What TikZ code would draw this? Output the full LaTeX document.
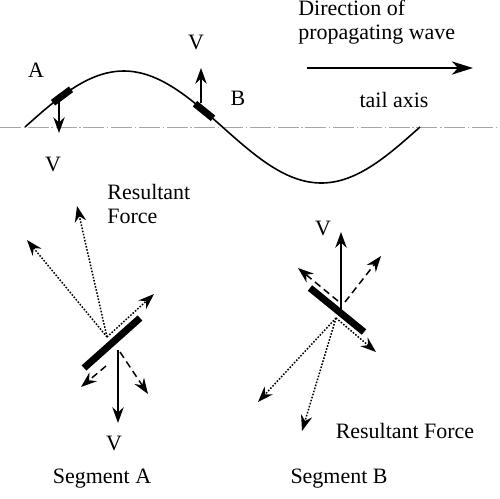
\documentclass[tikz,border=0pt]{standalone}
\usepackage{fontspec}
\setmainfont{Liberation Serif}
\usetikzlibrary{arrows.meta}

\begin{document}
\begin{tikzpicture}[x=0.02cm, y=-0.02cm,
        every node/.style={font=\fontsize{12.5}{13.6}\selectfont, inner sep=0pt},
        vec/.style={line width=0.85pt, -{Stealth[length=9pt, width=6.5pt, inset=3pt]}},
        comp/.style={vec, dash pattern=on 4pt off 2.5pt},
        resultant/.style={vec, dash pattern=on 0.9pt off 0.9pt},
        segbar/.style={line width=4pt}]
            \def \amp {56}
            \def \wavelen {395}

            \useasboundingbox (0,0) rectangle (500,498);

            % tail axis and wave
            \draw [gray!70, line width=0.5pt, dash pattern=on 12pt off 1.5pt on 0.8pt off 1.5pt] (0,127) -- (500,127);
            \draw [line width=0.9pt] plot [domain=25:420, samples=120] (\x, {127-\amp*sin((\x-25)/\wavelen*360)});

            \draw [segbar] (53,102.7) -- (71,89.3);
            \draw [segbar] (195,103.7) -- (213,118.3);
            \coordinate (vA0) at (59,102);
            \coordinate (vA1) at (59,133);
            \coordinate (vB0) at (201,103);
            \coordinate (vB1) at (201,68);
            \draw [vec] (vA0) -- (vA1);
            \draw [vec] (vB0) -- (vB1);

            \node (labA) at (36,70) {A};
            \node (labB) at (238,98) {B};
            \node (vA) at (53,164) {V};
            \node (vB) at (196,42) {V};

            \node [align=left, anchor=west] (direction) at (298,22.5) {Direction of\\propagating wave};
            \coordinate (dir0) at (307,68);
            \coordinate (dir1) at (473,68);
            \draw [line width=1.1pt, -{Stealth[length=12pt, width=7.5pt, inset=3.5pt]}] (dir0) -- (dir1);
            \node (tail) at (394,100) {tail axis};

            % segment A
            \node [align=left, anchor=west] (resA) at (107,204) {Resultant\\Force};
            \draw [segbar] (84,368) -- (140,318);
            \coordinate (fA) at (107,337);
            \coordinate (fA1) at (27,240);
            \coordinate (fA2) at (77,206);
            \coordinate (fA3) at (154,294);
            \draw [resultant] (fA) -- (fA1);
            \draw [resultant] (fA) -- (fA2);
            \draw [resultant] (fA) -- (fA3);
            \coordinate (vA2) at (118,350);
            \coordinate (vA3) at (118,423);
            \draw [vec] (vA2) -- (vA3);
            \coordinate (cA0) at (120,352);
            \coordinate (cA1) at (148,394);
            \draw [comp] (cA0) -- (cA1);
            \coordinate (cA2) at (106,366);
            \coordinate (cA3) at (81,387);
            \draw [comp] (cA2) -- (cA3);
            \node (vA4) at (114,443) {V};
            \node (segA) at (102,479) {Segment A};

            % segment B
            \draw [segbar] (310,288) -- (364,332);
            \coordinate (vB2) at (341,310);
            \coordinate (vB3) at (341,232);
            \draw [vec] (vB2) -- (vB3);
            \node (vB4) at (323,228) {V};
            \coordinate (cB0) at (345,302);
            \coordinate (cB1) at (381,256);
            \draw [comp] (cB0) -- (cB1);
            \coordinate (cB2) at (338,301);
            \coordinate (cB3) at (298,268);
            \draw [comp] (cB2) -- (cB3);
            \coordinate (fB) at (336,318);
            \coordinate (fB1) at (258,402);
            \coordinate (fB2) at (302,431);
            \coordinate (fB3) at (376,352);
            \draw [resultant] (fB) -- (fB1);
            \draw [resultant] (fB) -- (fB2);
            \draw [resultant] (fB) -- (fB3);
            \node (resB) at (405,431) {Resultant Force};
            \node (segB) at (339,479) {Segment B};
\end{tikzpicture}
\end{document}
